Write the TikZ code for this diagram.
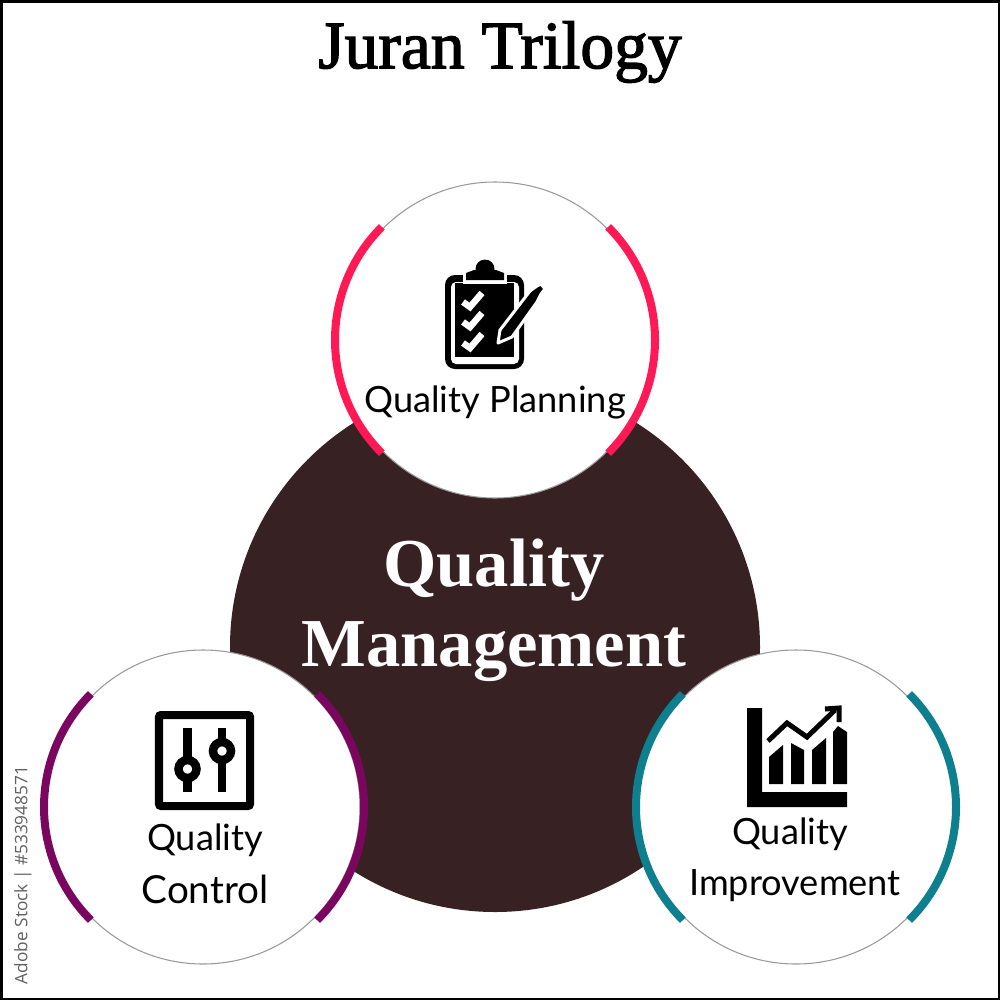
\documentclass[tikz,border=0pt]{standalone}
\usepackage{fontspec}
\setmainfont{Liberation Serif}
\newfontfamily\titlefont[FakeBold=2]{Liberation Serif}
\newfontfamily\labelfont{Lato}
\newfontfamily\stockfont{Open Sans}
\definecolor{hubbrown}{HTML}{372123}
\definecolor{planred}{HTML}{FF1A55}
\definecolor{controlpurple}{HTML}{7A0660}
\definecolor{improveteal}{HTML}{0E7F8E}
\tikzset{
  ring/.style={draw=gray!80,line width=0.3pt,fill=white},
  rim/.style={line width=0.08cm},
  lbl/.style={font=\labelfont\fontsize{10.3}{12}\selectfont,text=black,inner sep=0pt},
  hub/.style={font=\bfseries\fontsize{19.5}{22}\selectfont,text=white,inner sep=0pt},
  tick/.style={white,line width=0.065cm},
}
\begin{document}
\begin{tikzpicture}[x=0.01cm,y=-0.01cm]
\useasboundingbox (0,0) rectangle (1000,1000);
\draw[black,line width=0.03cm] (1,1) rectangle (999,999);
\node[inner sep=0pt,font=\titlefont\fontsize{19.2}{22}\selectfont] (title) at (500,52) {Juran Trilogy};
\node[rotate=90,inner sep=0pt,text=gray!75!black,font=\stockfont\fontsize{4.9}{6}\selectfont] (stock) at (23,875) {Adobe Stock | \#533948571};
% big circle
\fill[hubbrown] (495,647) circle (265);
\node[hub] (hubtop) at (494,570) {Quality};
\node[hub] (hubbot) at (494,652) {Management};
% three circles
\draw[ring] (495,340) circle (158);
\draw[ring] (203,807) circle (157);
\draw[ring] (796,807) circle (157);
% rims
\draw[rim,planred] (495,340) ++(135:160) arc[start angle=135,end angle=225,radius=160];
\draw[rim,planred] (495,340) ++(-45:160) arc[start angle=-45,end angle=45,radius=160];
\draw[rim,controlpurple] (204,807) ++(135:160) arc[start angle=135,end angle=225,radius=160];
\draw[rim,controlpurple] (204,807) ++(-45:160) arc[start angle=-45,end angle=45,radius=160];
\draw[rim,improveteal] (796,807) ++(135:160) arc[start angle=135,end angle=225,radius=160];
\draw[rim,improveteal] (796,807) ++(-45:160) arc[start angle=-45,end angle=45,radius=160];
% clipboard
\fill[black,rounded corners=0.1cm] (445,275) rectangle (524,369);
\fill[white,rounded corners=0.05cm] (451,282) rectangle (519,364);
\fill[black] (455,283) rectangle (514,357);
\fill[white] (463,275) rectangle (507,284);
\fill[black] (466,280) -- (466,273) -- (474,270) -- (496,270) -- (504,273) -- (504,280) -- cycle;
\fill[black] (485,269) circle (9.5);
\draw[tick] (463,302) -- (470,307) -- (482,293);
\draw[tick] (463,322) -- (470,327) -- (482,313);
\draw[tick] (463,343) -- (470,348) -- (482,334);
\draw[white,fill=black,line width=0.03cm,line join=round] (498,343) -- (500,330) -- (530,291) -- (537,286) -- (541,284) -- (545,289) -- (541,294) -- (537,302) -- (512,337) -- cycle;
\node[lbl] (planning) at (495,402) {Quality Planning};
% sliders
\draw[black,line width=0.08cm,rounded corners=0.02cm] (159,715) rectangle (250,806);
\draw[black,line width=0.085cm] (187.5,728) -- (187.5,792);
\draw[black,line width=0.085cm] (222,728) -- (222,792);
\draw[black,fill=white,line width=0.085cm] (187.5,769) circle (9);
\draw[black,fill=white,line width=0.085cm] (222,751) circle (9);
\node[lbl] (controlA) at (205,840) {Quality};
\node[lbl,font=\labelfont\fontsize{11}{12}\selectfont] (controlB) at (205,889) {Control};
% chart
\fill[black] (747,708) -- (762,708) -- (762,792) -- (847,792) -- (847,807) -- (747,807) -- cycle;
\fill[black] (769,757) -- (783,745) -- (783,784) -- (769,784) -- cycle;
\fill[black] (791,743) -- (804,750) -- (804,784) -- (791,784) -- cycle;
\fill[black] (812,750) -- (826,738) -- (826,784) -- (812,784) -- cycle;
\fill[black] (833,732) -- (838,726) -- (847,732) -- (847,784) -- (833,784) -- cycle;
\draw[black,line width=0.05cm,line join=miter] (768,741) -- (787,723) -- (807,737) -- (835,710);
\draw[black,line width=0.05cm] (825,709) -- (839,708) -- (839,722);
\node[lbl] (improveA) at (790,834) {Quality};
\node[lbl] (improveB) at (795,886) {Improvement};
\end{tikzpicture}
\end{document}
